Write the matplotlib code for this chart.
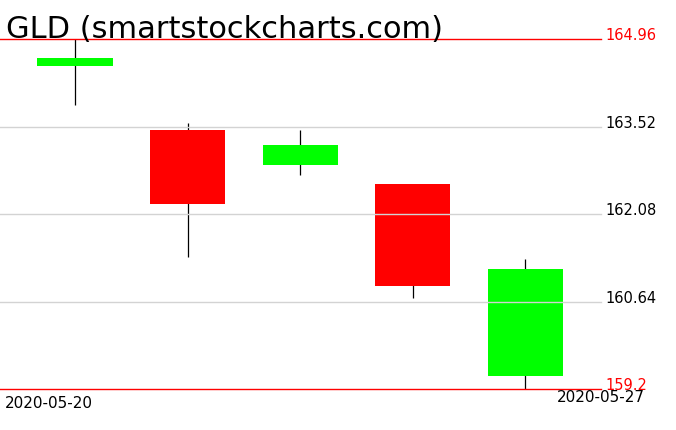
import matplotlib
matplotlib.use("Agg")
import matplotlib.pyplot as plt

W, H = 676, 431
dates = ["2020-05-20", "2020-05-21", "2020-05-22", "2020-05-26", "2020-05-27"]
opens = [164.52, 163.46, 162.88, 162.58, 159.41]
highs = [164.96, 163.58, 163.46, 162.58, 161.34]
lows = [163.88, 161.37, 162.73, 160.70, 159.20]
closes = [164.65, 162.24, 163.22, 160.89, 161.18]
levels = [164.96, 163.52, 162.08, 160.64, 159.2]
level_labels = ["164.96", "163.52", "162.08", "160.64", "159.2"]
title = "GLD (smartstockcharts.com)"

fig = plt.figure(figsize=(W / 100, H / 100), dpi=100)
ax = fig.add_axes([0, 0, 1, 1])
ax.set_axis_off()
ax.set_xlim(-0.666, 5.337)
ax.set_ylim(158.529, 165.618)

xs = list(range(len(dates)))
ax.vlines(xs, lows, highs, colors="black", linewidth=0.9, zorder=1)
for x, o, c in zip(xs, opens, closes):
    col = "#00ff00" if c >= o else "#ff0000"
    ax.bar(x, abs(c - o), bottom=min(o, c), width=0.667, color=col, zorder=2, linewidth=0)

line_end = 601 / W
for i, (lv, lab) in enumerate(zip(levels, level_labels)):
    edge = i == 0 or i == len(levels) - 1
    col = "#ff0000" if edge else "#d3d3d3"
    ax.axhline(lv, xmin=0, xmax=line_end, color=col, linewidth=1.0, zorder=3)
    ax.text(605 / W, lv, lab, transform=ax.get_yaxis_transform(), ha="left", va="baseline",
            fontsize=10.5, color="#ff0000" if edge else "black", zorder=4)

fig.text(6 / W, 1 - 38 / H, title, ha="left", va="baseline", fontsize=22, color="black")
fig.text(5 / W, 1 - 396 / H, dates[0], ha="left", va="top", fontsize=11, color="black")
fig.text(645 / W, 1 - 390 / H, dates[-1], ha="right", va="top", fontsize=11, color="black")

fig.savefig("out.png", dpi=100, facecolor="white")
